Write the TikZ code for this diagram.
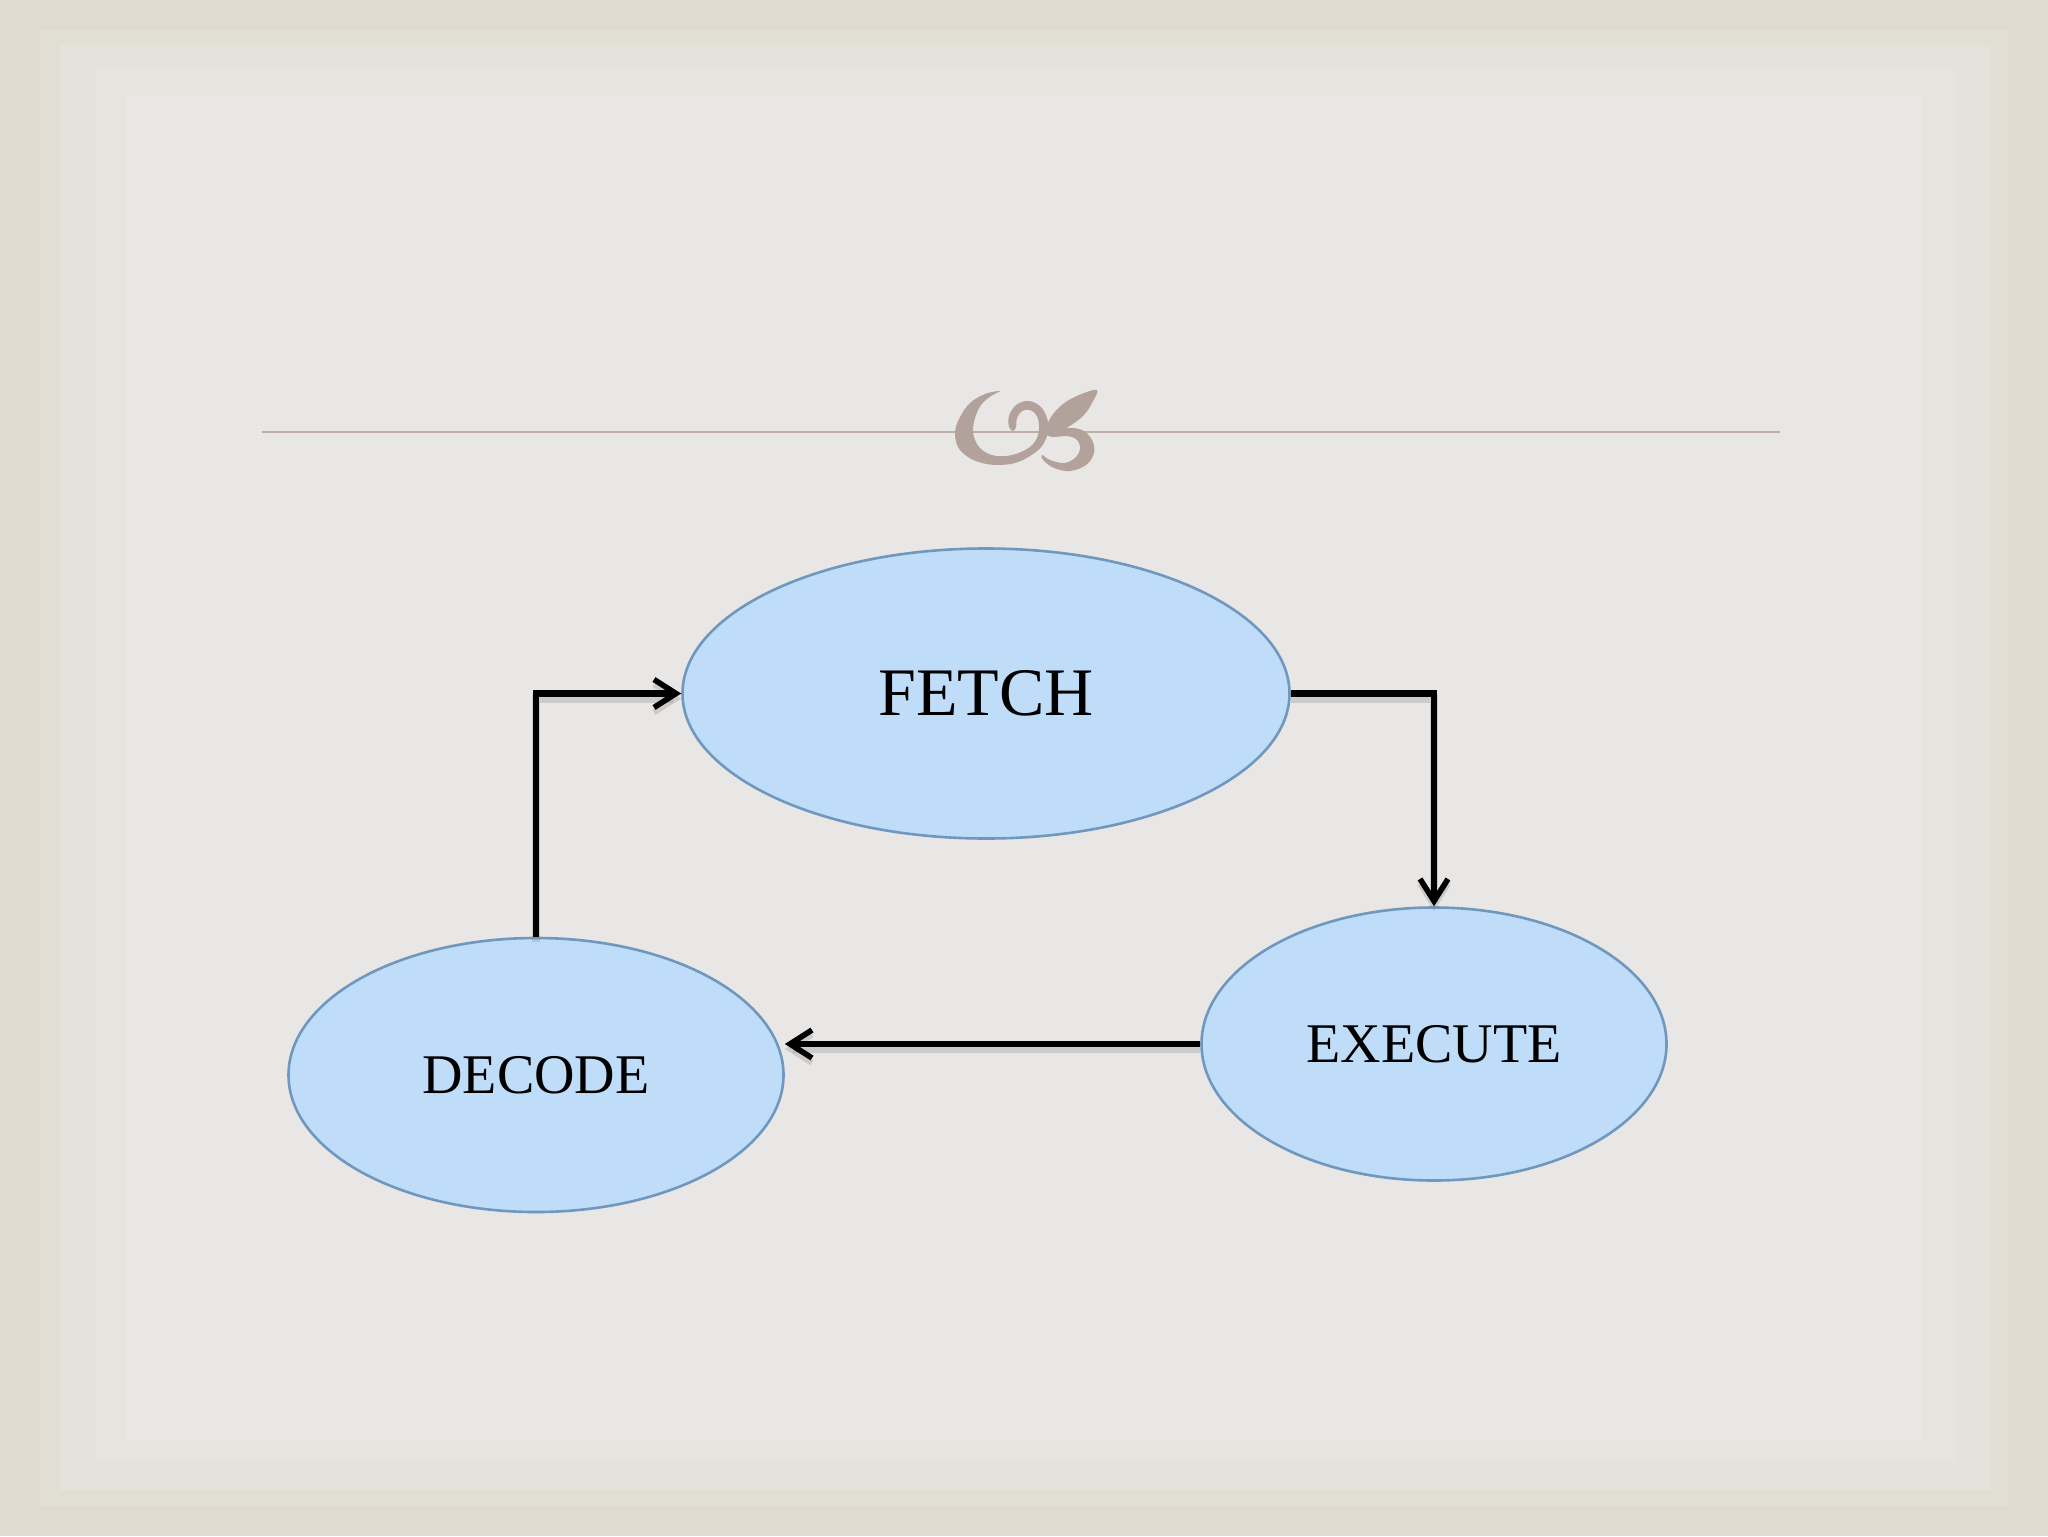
\documentclass[tikz,border=0pt]{standalone}
\usepackage{fontspec}
\setmainfont{Liberation Serif}
\usetikzlibrary{shapes.geometric,arrows.meta}
\definecolor{outerbg}{HTML}{DFDBCF}
\definecolor{midbg}{HTML}{E5E2DC}
\definecolor{innerbg}{HTML}{E8E7E5}
\definecolor{rulecol}{HTML}{BFAEAA}
\definecolor{ornament}{HTML}{B3A19C}
\definecolor{ellfill}{HTML}{BFDDF9}
\definecolor{elldraw}{HTML}{7097BD}
\tikzset{
  state/.style={ellipse, draw=elldraw, line width=1.3pt, fill=ellfill, inner sep=0pt, text=black},
  flow/.style={line width=3.1pt, draw=black, -{Straight Barb[length=11pt,width=14pt,line width=2.8pt]},
     preaction={draw=black!45, opacity=0.3, line width=4pt, transform canvas={yshift=-2.5pt}}},
  orn/.style={fill=ornament, draw=none}
}
\begin{document}
\begin{tikzpicture}[x=0.5pt,y=-0.5pt]
\useasboundingbox (0,0) rectangle (2048,1536);
% background frame
\fill[outerbg] (0,0) rectangle (2048,1536);
\fill[outerbg!60!midbg] (40,30) rectangle (2008,1506);
\fill[midbg] (60,45) rectangle (1990,1490);
\fill[midbg!50!innerbg] (95,70) rectangle (1955,1462);
\fill[innerbg] (125,95) rectangle (1922,1440);
% rule
\draw[rulecol, line width=1pt] (262,432) -- (1780,432);
% ornament
\fill[orn] plot[smooth cycle, tension=0.6] coordinates {
 (1000,391) (985,394) (970,403) (960,417) (955,432) (958,447) (968,457) (982,463) (998,465)
 (1015,463) (1030,456) (1042,446) (1048,432) (1047,418) (1040,406) (1028,401) (1016,405)
 (1009,416) (1009,427) (1013,431) (1016,427) (1017,418) (1022,411) (1030,410) (1037,416)
 (1039,428) (1036,440) (1027,449) (1012,455) (997,456) (985,452) (977,444) (973,432)
 (975,418) (981,405) (991,396)};
\fill[orn] plot[smooth cycle, tension=0.6] coordinates {
 (1045,432) (1051,417) (1063,404) (1079,395) (1097,390) (1092,403) (1083,416) (1068,427) (1053,434)};
\fill[orn] plot[smooth cycle, tension=0.6] coordinates {
 (1047,433) (1065,428) (1082,430) (1092,440) (1094,453) (1086,465) (1070,471) (1054,468)
 (1043,460) (1042,455) (1050,460) (1064,463) (1075,458) (1080,449) (1077,440) (1067,436) (1052,437)};
% nodes
\node[state, minimum width=303.5pt, minimum height=145pt, font=\fontsize{34pt}{38pt}\selectfont] (fetch) at (986,693.5) {FETCH};
\node[state, minimum width=247.5pt, minimum height=137pt, font=\fontsize{28pt}{32pt}\selectfont] (decode) at (536,1075) {DECODE};
\node[state, minimum width=232.5pt, minimum height=136.5pt, font=\fontsize{28pt}{32pt}\selectfont] (execute) at (1434,1044) {EXECUTE};
% connectors
\draw[flow] (decode.north) |- (fetch.west);
\draw[flow] (fetch.east) -| (execute.north);
\draw[flow] (execute.west) -- (execute.west -| decode.east);
\end{tikzpicture}
\end{document}
